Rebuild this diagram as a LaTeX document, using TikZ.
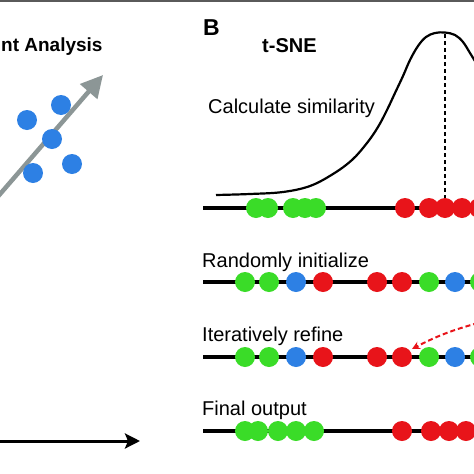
\documentclass[tikz,border=0pt]{standalone}
\usepackage{fontspec}
\setmainfont{Liberation Sans}
\usetikzlibrary{arrows.meta}
\definecolor{dotgreen}{RGB}{58,220,40}
\definecolor{dotred}{RGB}{232,20,26}
\definecolor{dotblue}{RGB}{45,128,228}
\definecolor{arrgray}{RGB}{140,150,150}
\definecolor{bargray}{RGB}{90,90,90}
\tikzset{
  g/.style={circle,fill=dotgreen,minimum size=20pt,inner sep=0pt},
  r/.style={circle,fill=dotred,minimum size=20pt,inner sep=0pt},
  b/.style={circle,fill=dotblue,minimum size=20pt,inner sep=0pt},
  pb/.style={circle,fill=dotblue,minimum size=20pt,inner sep=0pt},
  lbl/.style={anchor=base west,inner sep=0pt,font=\fontsize{20}{24}\selectfont},
  ttl/.style={anchor=base west,inner sep=0pt,font=\fontsize{19}{23}\selectfont\bfseries},
  axis/.style={line width=3.5pt,black},
}
\begin{document}
\begin{tikzpicture}[x=1pt,y=-1pt]
\useasboundingbox (0,0) rectangle (474,474);
\clip (0,0) rectangle (474,474);
\fill[white] (0,0) rectangle (474,474);
\fill[bargray] (0,0) rectangle (474,2.2);

% ---- Panel A (left) ----
\node[ttl] (atitle) at (1,51) {nt Analysis};
\coordinate (gs) at (-12,208);
\coordinate (ge) at (103,75);
\draw[arrgray,line width=4.5pt,-{Triangle[length=22pt,width=22pt]}] (gs) -- (ge);
\node[pb] (p1) at (61,105) {};
\node[pb] (p2) at (27,120) {};
\node[pb] (p3) at (52,139) {};
\node[pb] (p4) at (72,164) {};
\node[pb] (p5) at (33,173) {};
\coordinate (bs) at (-5,441);
\coordinate (be) at (140,441);
\draw[line width=3pt,-{Stealth[length=15pt,width=15pt,inset=3pt]}] (bs) -- (be);

% ---- Panel B (right) ----
\node[anchor=base west,inner sep=0pt,font=\fontsize{23}{27}\selectfont\bfseries] (B) at (203,35) {B};
\node[anchor=base west,inner sep=0pt,font=\fontsize{20}{24}\selectfont\bfseries] (tsne) at (262,52) {t-SNE};

\node[lbl] (calc) at (208,113) {Calculate similarity};
\draw[line width=2.2pt] plot[smooth,tension=0.6] coordinates {(216,195) (250,194) (283,192) (310,186) (333,174) (352,160) (367,143) (378,127) (387,110) (395,93) (403,76) (410,60) (418,46) (426,37) (435,33) (445,32.5) (455,35) (463,42) (470,53) (478,66)};
\coordinate (peak) at (445,34);
\coordinate (foot) at (445,206);
\draw[line width=1.6pt,dash pattern=on 4pt off 3pt] (peak) -- (foot);

% line 1
\coordinate (l1s) at (203,208);
\coordinate (l1e) at (480,208);
\draw[axis,line width=4pt] (l1s) -- (l1e);
\node[g] (a1) at (256,208) {};
\node[g] (a2) at (268,208) {};
\node[g] (a3) at (293,208) {};
\node[g] (a4) at (305,208) {};
\node[g] (a5) at (316,208) {};
\node[r] (a6) at (405,208) {};
\node[r] (a7) at (429,208) {};
\node[r] (a8) at (445,208) {};
\node[r] (a9) at (462,208) {};
\node[r] (a10) at (479,208) {};

% line 2
\node[lbl] (rand) at (202,267) {Randomly initialize};
\coordinate (l2s) at (203,282);
\coordinate (l2e) at (480,282);
\draw[axis] (l2s) -- (l2e);
\node[g] (b1) at (245,282) {};
\node[g] (b2) at (269,282) {};
\node[b] (b3) at (296,282) {};
\node[r] (b4) at (323,282) {};
\node[r] (b5) at (377,282) {};
\node[r] (b6) at (402,282) {};
\node[g] (b7) at (429,282) {};
\node[b] (b8) at (455,282) {};
\node[g] (b9) at (480,282) {};

% line 3
\node[lbl] (iter) at (202,341) {Iteratively refine};
\coordinate (l3s) at (203,357);
\coordinate (l3e) at (480,357);
\draw[axis] (l3s) -- (l3e);
\node[g] (c1) at (245,357) {};
\node[g] (c2) at (269,357) {};
\node[b] (c3) at (296,357) {};
\node[r] (c4) at (323,357) {};
\node[r] (c5) at (377,357) {};
\node[r] (c6) at (402,357) {};
\node[g] (c7) at (429,357) {};
\node[b] (c8) at (455,357) {};
\node[g] (c9) at (480,357) {};
\coordinate (rs) at (478,323);
\coordinate (rt) at (412,349);
\draw[dotred,line width=2pt,dash pattern=on 5pt off 3pt,-{Stealth[length=8pt,width=8pt]}] (rs) to[bend right=6] (rt);

% line 4
\node[lbl] (fin) at (202,415) {Final output};
\coordinate (l4s) at (203,431);
\coordinate (l4e) at (480,431);
\draw[axis] (l4s) -- (l4e);
\node[g] (d1) at (245,431) {};
\node[g] (d2) at (258,431) {};
\node[g] (d3) at (278,431) {};
\node[g] (d4) at (296,431) {};
\node[g] (d5) at (314,431) {};
\node[r] (d6) at (402,431) {};
\node[r] (d7) at (431,431) {};
\node[r] (d8) at (449,431) {};
\node[r] (d9) at (466,431) {};
\end{tikzpicture}
\end{document}
